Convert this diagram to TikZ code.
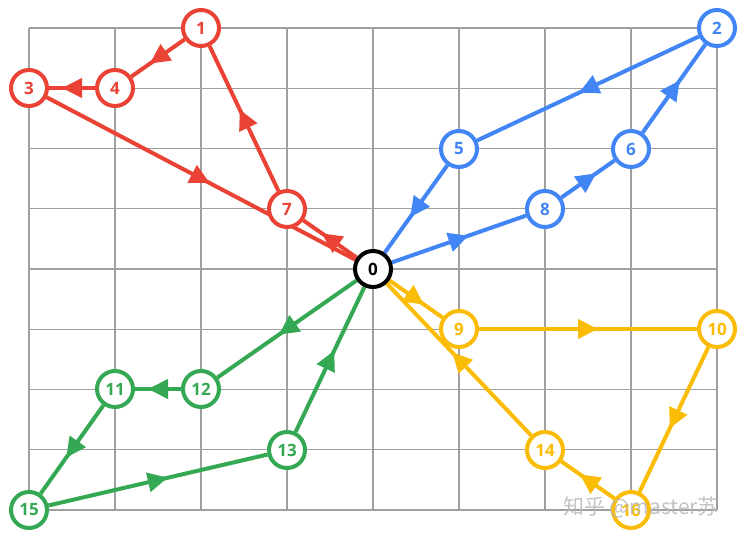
\documentclass[tikz,border=0pt]{standalone}
\usepackage{fontspec}
\setmainfont{Open Sans}
\newfontfamily\cjkfont{Noto Sans CJK SC}
\usetikzlibrary{arrows.meta,decorations.markings}
\definecolor{cred}{HTML}{EA4335}
\definecolor{cblue}{HTML}{4285F4}
\definecolor{cgreen}{HTML}{34A853}
\definecolor{cyellow}{HTML}{FBBC05}
\definecolor{cgrid}{HTML}{A0A0A0}
\pgfdeclarelayer{edges}
\pgfdeclarelayer{bg}
\pgfsetlayers{bg,edges,main}
\tikzset{
  gridline/.style={draw=cgrid, line width=1.4pt},
  vtx/.style={circle, draw=#1, text=#1, fill=white, line width=4pt,
    minimum size=36pt, inner sep=0pt,
    font=\fontsize{17}{17}\selectfont\bfseries},
  route/.style={draw=#1, line width=4pt, postaction={decorate},
    decoration={markings, mark=at position 0.5 with
      {\arrow[color=#1, xshift=10pt]{Triangle[length=20pt,width=19pt]}}}},
  wmark/.style={font=\cjkfont\fontsize{21}{21}\selectfont, text=gray!55, opacity=0.85}
}
\begin{document}
\begin{tikzpicture}[x=1pt,y=-1pt]
\useasboundingbox (0,0) rectangle (750,537);
\begin{pgfonlayer}{bg}
\fill[white] (0,0) rectangle (750,537);
\foreach \i in {0,...,8} {
  \draw[gridline] ({29+86*\i},28) -- ({29+86*\i},510);
  \draw[gridline] (29,{28+60.25*\i}) -- (717,{28+60.25*\i});
}
\end{pgfonlayer}
% nodes
\node[vtx=black] (n0) at (373,269) {0};
\node[vtx=cred] (n1) at (201,28) {1};
\node[vtx=cblue] (n2) at (717,28) {2};
\node[vtx=cred] (n3) at (29,88) {3};
\node[vtx=cred] (n4) at (115,88) {4};
\node[vtx=cblue] (n5) at (459,149) {5};
\node[vtx=cblue] (n6) at (631,149) {6};
\node[vtx=cred] (n7) at (287,209) {7};
\node[vtx=cblue] (n8) at (545,209) {8};
\node[vtx=cyellow] (n9) at (459,329) {9};
\node[vtx=cyellow] (n10) at (717,329) {10};
\node[vtx=cgreen] (n11) at (115,389) {11};
\node[vtx=cgreen] (n12) at (201,389) {12};
\node[vtx=cgreen] (n13) at (287,450) {13};
\node[vtx=cyellow] (n14) at (545,450) {14};
\node[vtx=cgreen] (n15) at (29,510) {15};
\node[vtx=cyellow] (n16) at (631,510) {16};
\begin{pgfonlayer}{edges}
\path[route=cred] (n0) -- (n7);
\path[route=cred] (n7) -- (n1);
\path[route=cred] (n1) -- (n4);
\path[route=cred] (n4) -- (n3);
\path[route=cred] (n3) -- (n0);
\path[route=cblue] (n0) -- (n8);
\path[route=cblue] (n8) -- (n6);
\path[route=cblue] (n6) -- (n2);
\path[route=cblue] (n2) -- (n5);
\path[route=cblue] (n5) -- (n0);
\path[route=cgreen] (n0) -- (n12);
\path[route=cgreen] (n12) -- (n11);
\path[route=cgreen] (n11) -- (n15);
\path[route=cgreen] (n15) -- (n13);
\path[route=cgreen] (n13) -- (n0);
\path[route=cyellow] (n0) -- (n9);
\path[route=cyellow] (n9) -- (n10);
\path[route=cyellow] (n10) -- (n16);
\path[route=cyellow] (n16) -- (n14);
\path[route=cyellow] (n14) -- (n0);
\end{pgfonlayer}
% watermark
\node[wmark] (wm) at (641,507) {知乎 @master苏};
\end{tikzpicture}
\end{document}
